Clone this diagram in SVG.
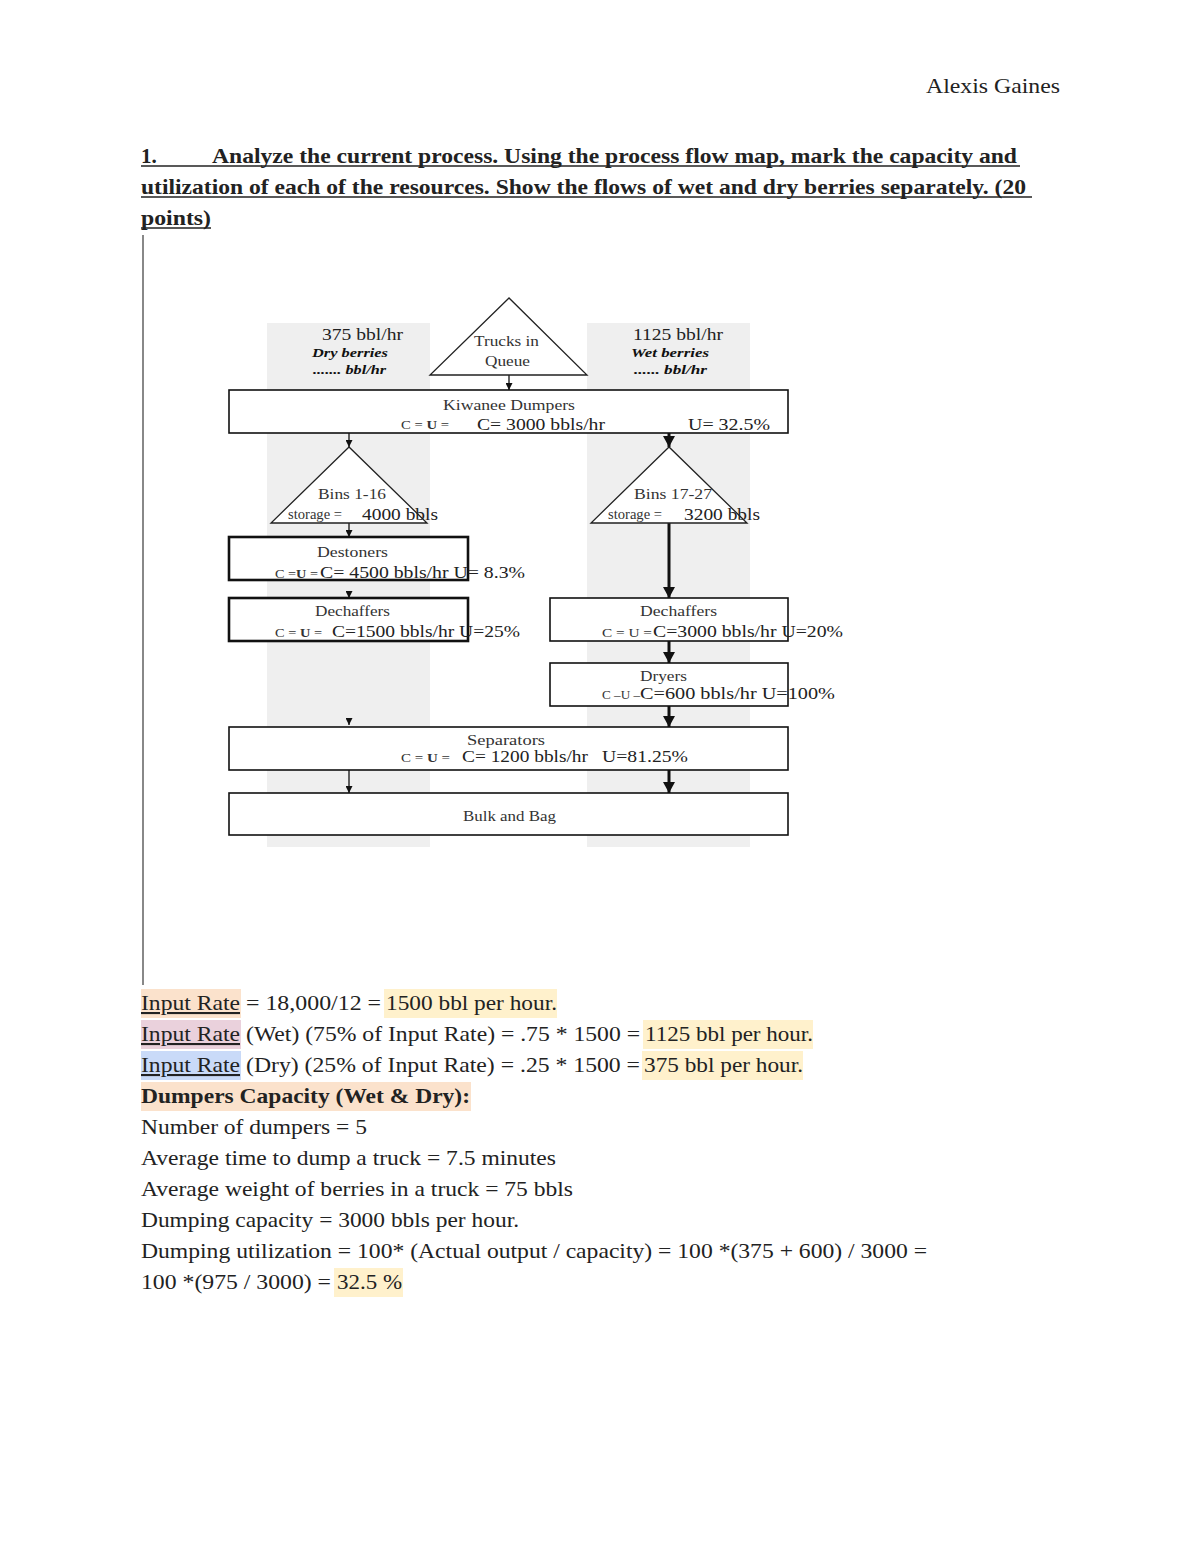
<svg xmlns="http://www.w3.org/2000/svg" width="1200" height="1553" viewBox="0 0 1200 1553">
<style>
.s{font-family:"Liberation Serif","Times New Roman",Times,serif;fill:#222}
.hd{font-family:"Liberation Serif","Times New Roman",Times,serif;font-weight:bold;font-size:21px;fill:#222}
.bt{font-family:"Liberation Serif","Times New Roman",Times,serif;font-size:21px;fill:#222}
.box{fill:#fff;stroke:#111;stroke-width:1.6}
.boxt{fill:#fff;stroke:#111;stroke-width:2.6}
.tri{fill:#fff;stroke:#222;stroke-width:1.3}
.col{fill:#efefef}
.ln{stroke:#111;stroke-width:1.3;fill:none}
.lk{stroke:#111;stroke-width:3;fill:none}
.sm{font-size:13px;fill:#333}
.md{font-size:14px;fill:#333}
.lg{font-size:17px;fill:#222}
.bi{font-size:13px;font-weight:bold;font-style:italic;fill:#111}
</style>
<defs>
<marker id="ah" markerWidth="7" markerHeight="7" refX="7" refY="3.5" orient="auto" markerUnits="userSpaceOnUse" viewBox="0 0 7 7">
<path d="M0,0 L7,3.5 L0,7 Z" fill="#111"/>
</marker>
<marker id="ahk" markerWidth="11" markerHeight="12" refX="11" refY="6" orient="auto" markerUnits="userSpaceOnUse" viewBox="0 0 11 12">
<path d="M0,0 L11,6 L0,12 Z" fill="#111"/>
</marker>
</defs>
<rect width="1200" height="1553" fill="#fff"/>

<text class="bt" x="926" y="93" textLength="134" lengthAdjust="spacingAndGlyphs">Alexis Gaines</text>

<g id="heading">
<text class="hd" x="141" y="163">1.</text>
<text class="hd" x="212" y="163" textLength="805" lengthAdjust="spacingAndGlyphs">Analyze the current process. Using the process flow map, mark the capacity and</text>
<text class="hd" x="141" y="194" textLength="885" lengthAdjust="spacingAndGlyphs">utilization of each of the resources. Show the flows of wet and dry berries separately. (20</text>
<text class="hd" x="141" y="225" textLength="70" lengthAdjust="spacingAndGlyphs">points)</text>
<line x1="141" y1="166" x2="1020" y2="166" stroke="#222" stroke-width="1.6"/>
<line x1="141" y1="197" x2="1032" y2="197" stroke="#222" stroke-width="1.6"/>
<line x1="141" y1="228" x2="211" y2="228" stroke="#222" stroke-width="1.6"/>
</g>

<line x1="143" y1="235" x2="143" y2="985" stroke="#888" stroke-width="2"/>

<g id="columns">
<rect class="col" x="267" y="323" width="163" height="524"/>
<rect class="col" x="587" y="323" width="163" height="524"/>
</g>

<g id="flowLabels">
<text class="s lg" x="322" y="340" textLength="81" lengthAdjust="spacingAndGlyphs">375 bbl/hr</text>
<text class="s bi" x="312" y="357" textLength="76" lengthAdjust="spacingAndGlyphs">Dry berries</text>
<text class="s bi" x="313" y="374" textLength="73" lengthAdjust="spacingAndGlyphs">....... bbl/hr</text>
<text class="s lg" x="633" y="340" textLength="90" lengthAdjust="spacingAndGlyphs">1125 bbl/hr</text>
<text class="s bi" x="631" y="357" textLength="78" lengthAdjust="spacingAndGlyphs">Wet berries</text>
<text class="s bi" x="634" y="374" textLength="73" lengthAdjust="spacingAndGlyphs">...... bbl/hr</text>
</g>

<g id="connectors">
<line class="ln" x1="509" y1="375" x2="509" y2="390" marker-end="url(#ah)"/>
<line class="ln" x1="349" y1="433" x2="349" y2="447" marker-end="url(#ah)"/>
<line class="lk" x1="669" y1="433" x2="669" y2="447" marker-end="url(#ahk)"/>
<line class="ln" x1="349" y1="523" x2="349" y2="537" marker-end="url(#ah)"/>
<line class="ln" x1="349" y1="591" x2="349" y2="598" marker-end="url(#ah)"/>
<line class="lk" x1="669" y1="523" x2="669" y2="598" marker-end="url(#ahk)"/>
<line class="lk" x1="669" y1="641" x2="669" y2="663" marker-end="url(#ahk)"/>
<line class="lk" x1="669" y1="706" x2="669" y2="727" marker-end="url(#ahk)"/>
<line class="ln" x1="349" y1="718" x2="349" y2="725" marker-end="url(#ah)"/>
<line class="ln" x1="349" y1="770" x2="349" y2="793" marker-end="url(#ah)"/>
<line class="lk" x1="669" y1="770" x2="669" y2="793" marker-end="url(#ahk)"/>
</g>

<g id="trucks">
<polygon class="tri" points="509,298 430,375 587,375"/>
<text class="s md" x="474" y="346" textLength="65" lengthAdjust="spacingAndGlyphs">Trucks in</text>
<text class="s md" x="485" y="366" textLength="45" lengthAdjust="spacingAndGlyphs">Queue</text>
</g>

<g id="dumpers">
<rect class="box" x="229" y="390" width="559" height="43"/>
<text class="s md" x="443" y="410" textLength="132" lengthAdjust="spacingAndGlyphs">Kiwanee Dumpers</text>
<text class="s sm" x="401" y="429" textLength="48" lengthAdjust="spacingAndGlyphs">C = <tspan font-weight="bold">U</tspan> =</text>
<text class="s lg" x="477" y="430" textLength="128" lengthAdjust="spacingAndGlyphs">C= 3000 bbls/hr</text>
<text class="s lg" x="688" y="430" textLength="82" lengthAdjust="spacingAndGlyphs">U= 32.5%</text>
</g>

<g id="bins1">
<polygon class="tri" points="349,447 271,523 427,523"/>
<text class="s md" x="318" y="499" textLength="68" lengthAdjust="spacingAndGlyphs">Bins 1-16</text>
<text class="s md" x="288" y="519" textLength="54" lengthAdjust="spacingAndGlyphs">storage =</text>
<text class="s lg" x="362" y="520" textLength="76" lengthAdjust="spacingAndGlyphs">4000 bbls</text>
</g>

<g id="bins2">
<polygon class="tri" points="669,447 591,523 747,523"/>
<text class="s md" x="634" y="499" textLength="78" lengthAdjust="spacingAndGlyphs">Bins 17-27</text>
<text class="s md" x="608" y="519" textLength="54" lengthAdjust="spacingAndGlyphs">storage =</text>
<text class="s lg" x="684" y="520" textLength="76" lengthAdjust="spacingAndGlyphs">3200 bbls</text>
</g>

<g id="destoners">
<rect class="boxt" x="229" y="537" width="239" height="43"/>
<text class="s md" x="317" y="557" textLength="71" lengthAdjust="spacingAndGlyphs">Destoners</text>
<text class="s sm" x="275" y="578" textLength="43" lengthAdjust="spacingAndGlyphs">C =<tspan font-weight="bold">U</tspan> =</text>
<text class="s lg" x="320" y="578" textLength="205" lengthAdjust="spacingAndGlyphs">C= 4500 bbls/hr U= 8.3%</text>
</g>

<g id="dechaffersDry">
<rect class="boxt" x="229" y="598" width="239" height="43"/>
<text class="s md" x="315" y="616" textLength="75" lengthAdjust="spacingAndGlyphs">Dechaffers</text>
<text class="s sm" x="275" y="637" textLength="47" lengthAdjust="spacingAndGlyphs">C = <tspan font-weight="bold">U</tspan> =</text>
<text class="s lg" x="332" y="637" textLength="188" lengthAdjust="spacingAndGlyphs">C=1500 bbls/hr U=25%</text>
</g>

<g id="dechaffersWet">
<rect class="box" x="550" y="598" width="238" height="43"/>
<text class="s md" x="640" y="616" textLength="77" lengthAdjust="spacingAndGlyphs">Dechaffers</text>
<text class="s sm" x="602" y="637" textLength="50" lengthAdjust="spacingAndGlyphs">C = U =</text>
<text class="s lg" x="653" y="637" textLength="190" lengthAdjust="spacingAndGlyphs">C=3000 bbls/hr U=20%</text>
</g>

<g id="dryers">
<rect class="box" x="550" y="663" width="238" height="43"/>
<text class="s md" x="640" y="681" textLength="47" lengthAdjust="spacingAndGlyphs">Dryers</text>
<text class="s sm" x="602" y="699" textLength="38" lengthAdjust="spacingAndGlyphs">C –U –</text>
<text class="s lg" x="640" y="699" textLength="195" lengthAdjust="spacingAndGlyphs">C=600 bbls/hr U=100%</text>
</g>

<g id="separators">
<rect class="box" x="229" y="727" width="559" height="43"/>
<text class="s md" x="467" y="745" textLength="78" lengthAdjust="spacingAndGlyphs">Separators</text>
<text class="s sm" x="401" y="762" textLength="49" lengthAdjust="spacingAndGlyphs">C = <tspan font-weight="bold">U</tspan> =</text>
<text class="s lg" x="462" y="762" textLength="126" lengthAdjust="spacingAndGlyphs">C= 1200 bbls/hr</text>
<text class="s lg" x="602" y="762" textLength="86" lengthAdjust="spacingAndGlyphs">U=81.25%</text>
</g>

<g id="bulkBag">
<rect class="box" x="229" y="793" width="559" height="42"/>
<text class="s md" x="463" y="821" textLength="93" lengthAdjust="spacingAndGlyphs">Bulk and Bag</text>
</g>

<g id="notes">
<rect x="141" y="989" width="100" height="29" fill="#fbe2cc"/>
<rect x="384" y="989" width="173" height="29" fill="#fff1cc"/>
<rect x="141" y="1020" width="100" height="29" fill="#ead1dc"/>
<rect x="643" y="1020" width="170" height="29" fill="#fff1cc"/>
<rect x="141" y="1051" width="100" height="29" fill="#c9daf8"/>
<rect x="642" y="1051" width="161" height="29" fill="#fff1cc"/>
<rect x="141" y="1082" width="330" height="29" fill="#fbe2cc"/>
<rect x="334" y="1268" width="69" height="29" fill="#fff1cc"/>

<text class="bt" x="141" y="1010" textLength="99" lengthAdjust="spacingAndGlyphs" text-decoration="underline">Input Rate</text>
<text class="bt" x="246" y="1010" textLength="135" lengthAdjust="spacingAndGlyphs">= 18,000/12 =</text>
<text class="bt" x="386" y="1010" textLength="171" lengthAdjust="spacingAndGlyphs">1500 bbl per hour.</text>

<text class="bt" x="141" y="1041" textLength="99" lengthAdjust="spacingAndGlyphs" text-decoration="underline">Input Rate</text>
<text class="bt" x="246" y="1041" textLength="394" lengthAdjust="spacingAndGlyphs">(Wet) (75% of Input Rate) = .75 * 1500 =</text>
<text class="bt" x="645" y="1041" textLength="168" lengthAdjust="spacingAndGlyphs">1125 bbl per hour.</text>

<text class="bt" x="141" y="1072" textLength="99" lengthAdjust="spacingAndGlyphs" text-decoration="underline">Input Rate</text>
<text class="bt" x="246" y="1072" textLength="394" lengthAdjust="spacingAndGlyphs">(Dry) (25% of Input Rate) = .25 * 1500 =</text>
<text class="bt" x="644" y="1072" textLength="159" lengthAdjust="spacingAndGlyphs">375 bbl per hour.</text>

<text class="bt" x="141" y="1103" font-weight="bold" textLength="329" lengthAdjust="spacingAndGlyphs">Dumpers Capacity (Wet &amp; Dry):</text>
<text class="bt" x="141" y="1134" textLength="226" lengthAdjust="spacingAndGlyphs">Number of dumpers = 5</text>
<text class="bt" x="141" y="1165" textLength="415" lengthAdjust="spacingAndGlyphs">Average time to dump a truck = 7.5 minutes</text>
<text class="bt" x="141" y="1196" textLength="432" lengthAdjust="spacingAndGlyphs">Average weight of berries in a truck = 75 bbls</text>
<text class="bt" x="141" y="1227" textLength="378" lengthAdjust="spacingAndGlyphs">Dumping capacity = 3000 bbls per hour.</text>
<text class="bt" x="141" y="1258" textLength="786" lengthAdjust="spacingAndGlyphs">Dumping utilization = 100* (Actual output / capacity) = 100 *(375 + 600) / 3000 =</text>
<text class="bt" x="141" y="1289" textLength="190" lengthAdjust="spacingAndGlyphs">100 *(975 / 3000) =</text>
<text class="bt" x="337" y="1289" textLength="65" lengthAdjust="spacingAndGlyphs">32.5 %</text>
</g>
</svg>
